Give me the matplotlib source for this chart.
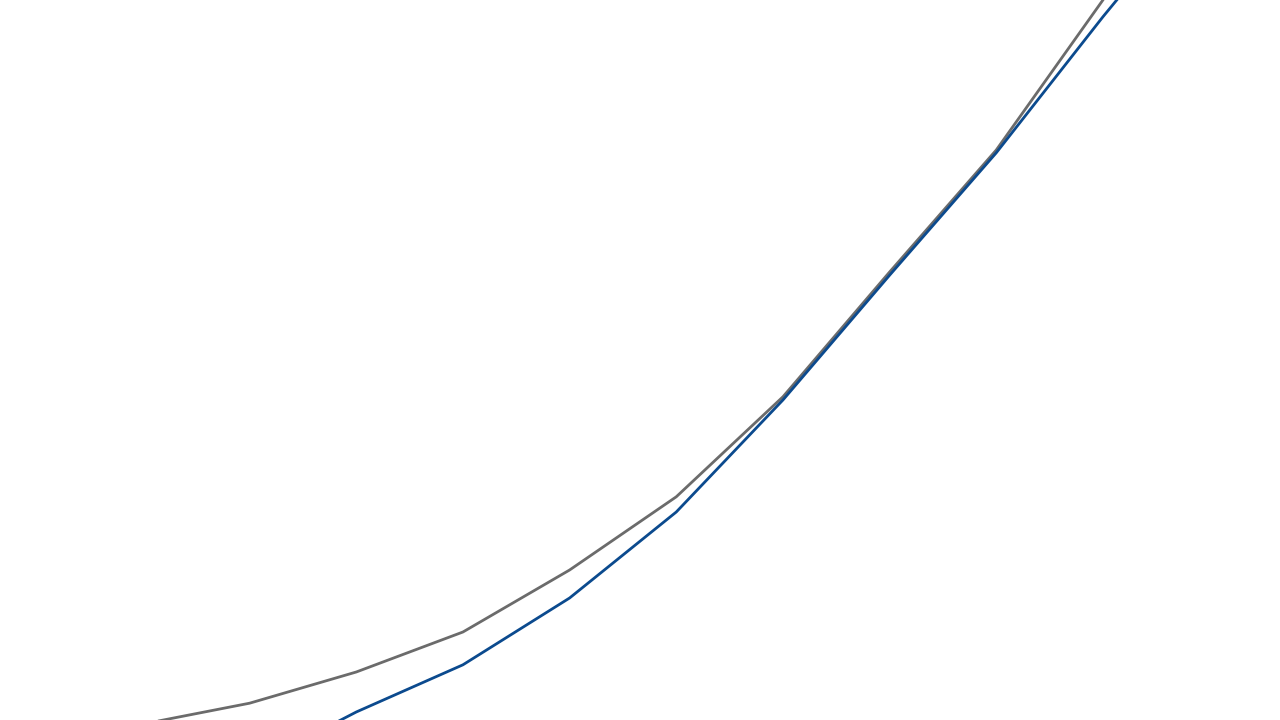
import matplotlib
matplotlib.use("Agg")
import matplotlib.pyplot as plt

# Category positions (evenly spaced periods)
periods = list(range(11))

# Series values (arbitrary units)
gray_values = [9.5, 12.1, 16.0, 21.0, 28.75, 37.9, 50.4, 66.0, 81.25, 100.0, 122.5]
blue_values = [1.0, 4.1, 11.0, 16.9, 25.25, 36.0, 50.0, 65.6, 80.9, 97.9, 114.1]

fig = plt.figure(figsize=(12.8, 7.2), dpi=100)
ax = fig.add_axes([0, 0, 1, 1])
ax.plot(periods, gray_values, color="#6b6b6b", linewidth=2.0, solid_capstyle="round")
ax.plot(periods, blue_values, color="#0b4a8e", linewidth=2.0, solid_capstyle="round")
ax.set_xlim(-1.34, 10.66)
ax.set_ylim(10, 100)
ax.axis("off")
fig.savefig("out.png", dpi=100, facecolor="white")
